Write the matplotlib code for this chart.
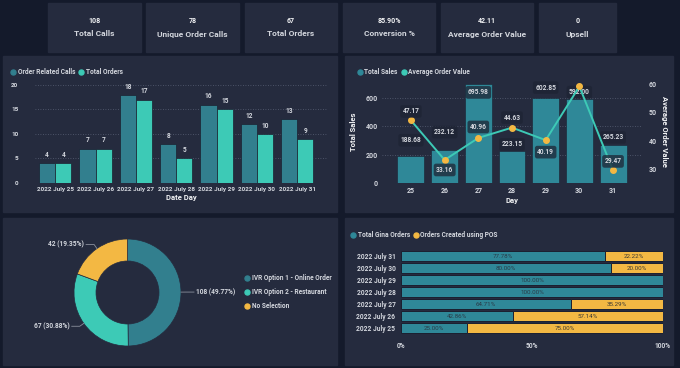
import numpy as np
import matplotlib
matplotlib.use('Agg')
import matplotlib.pyplot as plt
from matplotlib.patches import Rectangle
from matplotlib.lines import Line2D

plt.rcParams['font.family'] = ['Liberation Sans Narrow', 'Roboto', 'DejaVu Sans']

# ---- data ----
kpi_values = ['108', '78', '67', '85.90%', '42.11', '0']
kpi_labels = ['Total Calls', 'Unique Order Calls', 'Total Orders', 'Conversion %',
              'Average Order Value', 'Upsell']

dates = ['2022 July 25', '2022 July 26', '2022 July 27', '2022 July 28',
         '2022 July 29', '2022 July 30', '2022 July 31']
order_calls = [4, 7, 18, 8, 16, 12, 13]
total_orders = [4, 7, 17, 5, 15, 10, 9]

days = ['25', '26', '27', '28', '29', '30', '31']
total_sales = [188.68, 232.12, 695.98, 223.15, 602.85, 592.00, 265.23]
avg_order = [47.17, 33.16, 40.96, 44.63, 40.19, 59.20, 29.47]

ivr_labels = ['IVR Option 1 - Online Order', 'IVR Option 2 - Restaurant', 'No Selection']
ivr_counts = [108, 67, 42]
ivr_pct = [49.77, 30.88, 19.35]

gina_pct = [25.00, 42.86, 64.71, 100.00, 100.00, 80.00, 77.78]
pos_pct = [75.00, 57.14, 35.29, 0.00, 0.00, 20.00, 22.22]

# ---- style ----
BG = '#141a2b'
PANEL = '#252b3e'
TXT = '#d3d6dd'
WHITE = '#f2f3f5'
C_DARK = '#327f8e'
C_TURQ = '#3dcab6'
C_SALES = '#2f8898'
C_ORANGE = '#f3b843'
GRID = '#596075'
EDGE = '#1b2030'

W, H = 680, 368
fig = plt.figure(figsize=(6.8, 3.68), dpi=100, facecolor=BG)


def box(x0, y0, x1, y1):
    return [x0 / W, 1 - y1 / H, (x1 - x0) / W, (y1 - y0) / H]


def panel(x0, y0, x1, y1):
    fig.add_artist(Rectangle((x0 / W, 1 - y1 / H), (x1 - x0) / W, (y1 - y0) / H,
                             transform=fig.transFigure, color=PANEL, zorder=0))


def legend_row(x, y, items, size=4.8):
    rend = fig.canvas.get_renderer()
    for label, col in items:
        fig.add_artist(Line2D([x / W], [1 - y / H], marker='o', ms=3.6, color=col,
                              transform=fig.transFigure))
        t = fig.text((x + 4.5) / W, 1 - y / H, label, va='center', ha='left',
                     fontsize=size, color=TXT, fontweight='bold')
        x = t.get_window_extent(rend).x1 + 6


# KPI cards
cards = [(48, 141), (146, 239), (245, 337), (343, 435), (441, 533), (539, 616)]
for (x0, x1), v, lab in zip(cards, kpi_values, kpi_labels):
    panel(x0, 3, x1, 52)
    fig.text((x0 + x1) / 2 / W, 1 - 21 / H, v, ha='center', va='center',
             fontsize=5, color=WHITE, fontweight='bold')
    fig.text((x0 + x1) / 2 / W, 1 - 34 / H, lab, ha='center', va='center',
             fontsize=6, color=TXT, fontweight='bold')

panel(3, 56, 337, 212)
panel(345, 56, 673, 212)
panel(3, 218, 337, 365)
panel(345, 218, 673, 365)

# ---- top left: calls vs orders ----
ax1 = fig.add_axes(box(35, 80, 328, 183))
ax1.set_facecolor('none')
x = np.arange(len(dates))
b1 = ax1.bar(x - 0.2, order_calls, 0.4, color=C_DARK, edgecolor=EDGE, lw=0.5, zorder=3)
b2 = ax1.bar(x + 0.2, total_orders, 0.4, color=C_TURQ, edgecolor=EDGE, lw=0.5, zorder=3)
for c in (b1, b2):
    ax1.bar_label(c, padding=3, fontsize=4.7, color=TXT, fontweight='bold')
ax1.set_ylim(0, 21.0)
ax1.set_xlim(-0.5, 6.76)
ax1.set_yticks([0, 5, 10, 15, 20])
ax1.set_xticks(x, dates)
ax1.yaxis.grid(True, linestyle=(0, (1, 2)), color=GRID, lw=0.6)
ax1.tick_params(length=0, labelsize=4.6, labelcolor=TXT, pad=3)
ax1.tick_params(axis='y', pad=12)
for lab in ax1.get_xticklabels() + ax1.get_yticklabels():
    lab.set_fontweight('bold')
for s in ax1.spines.values():
    s.set_visible(False)
ax1.set_xlabel('Date Day', fontsize=5.5, color=WHITE, fontweight='bold', labelpad=1)
legend_row(13, 72, [('Order Related Calls', C_DARK), ('Total Orders', C_TURQ)])

# ---- top right: sales and average order value ----
ax2 = fig.add_axes(box(382, 80, 642, 183))
ax2.set_facecolor('none')
xd = np.arange(len(days))
ax2.bar(xd, total_sales, 0.8, color=C_SALES, edgecolor=EDGE, lw=0.4, zorder=2)
ax2.set_ylim(0, 727)
ax2.set_xlim(-0.86, 6.86)
ax2.set_yticks([0, 200, 400, 600])
ax2.set_xticks(xd, days)
ax2.yaxis.grid(True, linestyle=(0, (1, 2)), color=GRID, lw=0.6, zorder=0)
ax2.tick_params(length=0, labelsize=5, labelcolor=TXT, pad=3)
for lab in ax2.get_xticklabels() + ax2.get_yticklabels():
    lab.set_fontweight('bold')
for s in ax2.spines.values():
    s.set_visible(False)
ax2.set_xlabel('Day', fontsize=5.5, color=WHITE, fontweight='bold', labelpad=1)
ax2.set_ylabel('Total Sales', fontsize=5.5, color=WHITE, fontweight='bold', labelpad=6)

ax2b = ax2.twinx()
ax2b.set_ylim(25, 61.5)
ax2b.set_yticks([30, 40, 50, 60])
ax2b.plot(xd, avg_order, color=C_TURQ, lw=1.4, marker='o', ms=4,
          mfc=C_ORANGE, mec=C_ORANGE, zorder=4)
ax2b.tick_params(length=0, labelsize=5, labelcolor=TXT, pad=5)
for lab in ax2b.get_yticklabels():
    lab.set_fontweight('bold')
for s in ax2b.spines.values():
    s.set_visible(False)
ax2b.set_ylabel('Average Order Value', fontsize=5.5, color=WHITE, fontweight='bold',
                rotation=-90, labelpad=8)

lbl_box = dict(boxstyle='round,pad=0.35', fc='#1e2434', ec='none', alpha=0.75)
sales_dy = [16, 18, -8, 7, 10, 7, 8]          # label offset above bar top, px
avg_dy = [9, -10, 11, 10, -12, None, 9]       # label offset above point, px
for i, v in enumerate(total_sales):
    ax2.annotate(f'{v:.2f}', (i, v), xytext=(0, sales_dy[i] * 0.72),
                 textcoords='offset points', ha='center', va='center', fontsize=4.8,
                 color=TXT, fontweight='bold', bbox=lbl_box, zorder=5)
for i, v in enumerate(avg_order):
    if avg_dy[i] is None:
        continue
    ax2b.annotate(f'{v:.2f}', (i, v), xytext=(0, avg_dy[i] * 0.72),
                  textcoords='offset points', ha='center', va='center', fontsize=4.8,
                  color=TXT, fontweight='bold', bbox=lbl_box, zorder=5)
legend_row(360, 72, [('Total Sales', C_SALES), ('Average Order Value', C_TURQ)])

# ---- bottom left: donut ----
ax3 = fig.add_axes(box(3, 218, 337, 365))
cx, cy, r = 127.5, 365 - 292.5, 53.5
wedges, _ = ax3.pie(ivr_counts, colors=[C_DARK, C_TURQ, C_ORANGE], startangle=90,
                    counterclock=False, radius=r, center=(cx, cy),
                    wedgeprops=dict(width=22, edgecolor=PANEL, linewidth=0.5))
ax3.set_xlim(3, 337)
ax3.set_ylim(0, 147)
ax3.set_aspect('equal')
ax3.axis('off')
for w, n, p in zip(wedges, ivr_counts, ivr_pct):
    th = np.deg2rad((w.theta1 + w.theta2) / 2)
    ux, uy = np.cos(th), np.sin(th)
    p0 = (cx + r * ux, cy + r * uy)
    p1 = (cx + (r + 5) * ux, cy + (r + 5) * uy)
    side = 1 if ux >= 0 else -1
    p2 = (p1[0] + 8 * side, p1[1])
    ax3.plot([p0[0], p1[0], p2[0]], [p0[1], p1[1], p2[1]], color='#8a8f9c', lw=0.6)
    ax3.text(p2[0] + 2 * side, p2[1], f'{n} ({p:.2f}%)', ha='left' if side > 0 else 'right',
             va='center', fontsize=4.8, color=TXT, fontweight='bold')
for i, (lab, col) in enumerate(zip(ivr_labels, [C_DARK, C_TURQ, C_ORANGE])):
    y = 278 + 14 * i
    fig.add_artist(Line2D([247 / W], [1 - y / H], marker='o', ms=3.6, color=col,
                          transform=fig.transFigure))
    fig.text(251.5 / W, 1 - y / H, lab, va='center', ha='left', fontsize=4.7,
             color=TXT, fontweight='bold')

# ---- bottom right: 100% stacked bars ----
ax4 = fig.add_axes(box(401, 250, 663, 334))
ax4.set_facecolor('none')
yy = np.arange(len(dates))
ax4.barh(yy, gina_pct, 0.84, color=C_SALES, edgecolor=EDGE, lw=0.7)
ax4.barh(yy, pos_pct, 0.84, left=gina_pct, color=C_ORANGE, edgecolor=EDGE, lw=0.7)
for i in yy:
    if gina_pct[i] > 0:
        ax4.text(gina_pct[i] / 2, i, f'{gina_pct[i]:.2f}%', ha='center', va='center',
                 fontsize=4.5, color='#2a3b48')
    if pos_pct[i] > 0:
        ax4.text(gina_pct[i] + pos_pct[i] / 2, i, f'{pos_pct[i]:.2f}%', ha='center',
                 va='center', fontsize=4.5, color='#3d3a33')
ax4.set_xlim(0, 100)
ax4.set_ylim(-0.5, 6.5)
ax4.set_xticks([0, 50, 100], ['0%', '50%', '100%'])
ax4.set_yticks(yy, dates)
ax4.tick_params(length=0, labelsize=4.8, labelcolor=TXT)
ax4.tick_params(axis='x', pad=6)
ax4.tick_params(axis='y', pad=4)
for lab in ax4.get_xticklabels() + ax4.get_yticklabels():
    lab.set_fontweight('bold')
for s in ax4.spines.values():
    s.set_visible(False)
legend_row(353, 235, [('Total Gina Orders', C_SALES), ('Orders Created using POS', C_ORANGE)])

fig.savefig('out.png', dpi=100, facecolor=BG)
